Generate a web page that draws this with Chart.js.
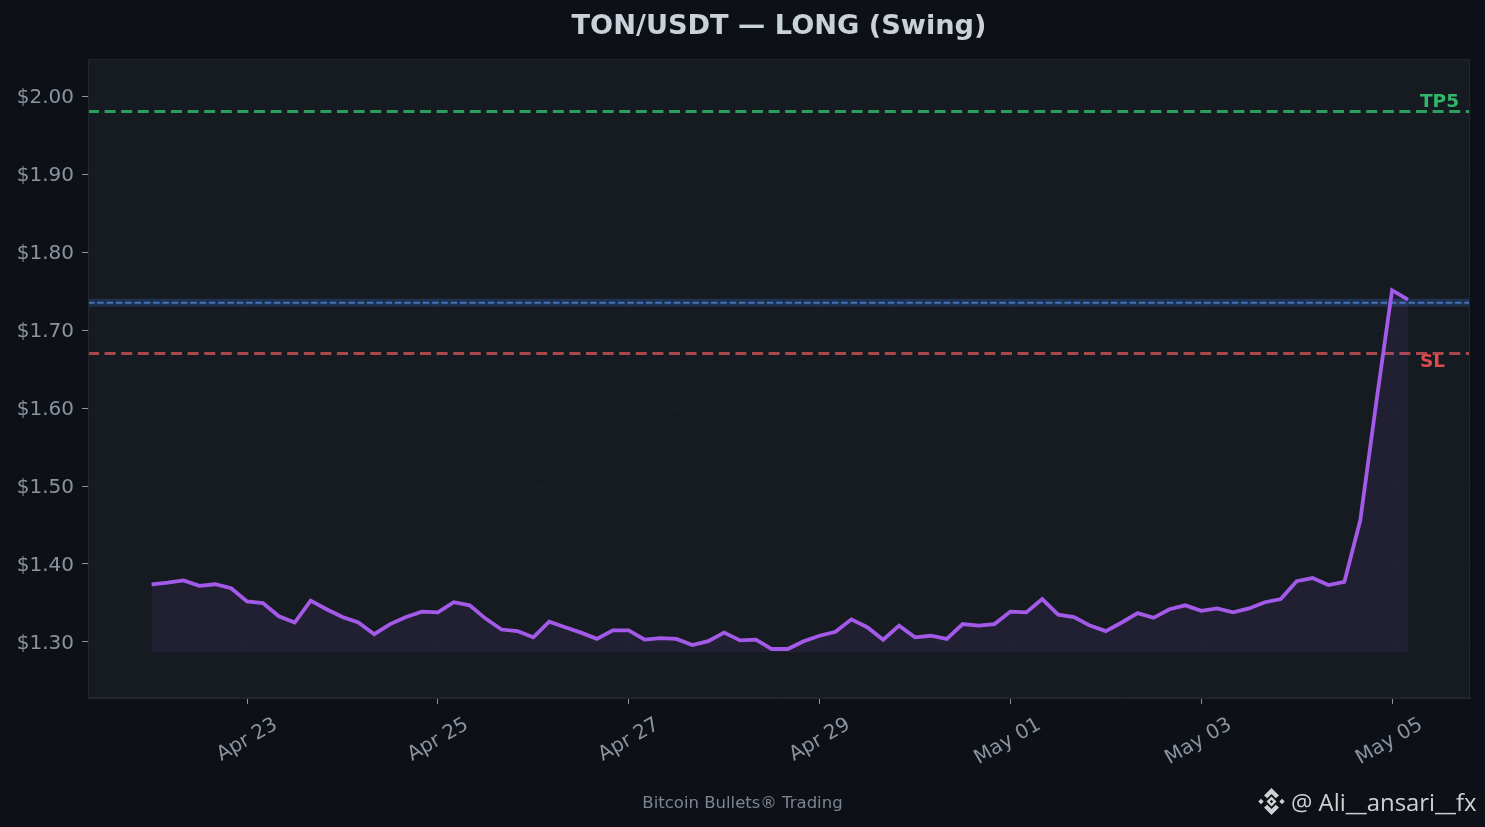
<!DOCTYPE html>
<html lang="en">
<head>
  <meta charset="UTF-8">
  <title>TON/USDT - LONG (Swing)</title>
  <script src="https://cdn.jsdelivr.net/npm/chart.js"></script>
  <style>
    html, body { margin: 0; padding: 0; background: #0d1117; overflow: hidden; }
    #wrap { position: relative; width: 1485px; height: 827px; }
    #sign {
      position: absolute; left: 1257px; top: 785px; height: 32px;
      display: flex; align-items: center; gap: 5px;
      font-family: "Open Sans", sans-serif; font-size: 23.9px; color: #cfd0d2; white-space: nowrap;
    }
  </style>
</head>
<body>
  <div id="wrap">
    <canvas id="priceChart" width="1485" height="827"></canvas>
    <div id="sign">
      <svg width="29" height="29" viewBox="0 0 29 29" fill="#cfd0d2">
        <path d="M14.5 1 L22 8.5 L18.8 11.2 L14.5 7 L10.2 11.2 L7 8.5 Z"/>
        <path d="M14.5 28 L7 20.5 L10.2 17.8 L14.5 22 L18.8 17.8 L22 20.5 Z"/>
        <path fill-rule="evenodd" d="M14.5 9.5 L19.5 14.5 L14.5 19.5 L9.5 14.5 Z M14.5 12.8 L12.8 14.5 L14.5 16.2 L16.2 14.5 Z"/>
        <path d="M4 11.8 L6.7 14.5 L4 17.2 L1.3 14.5 Z"/>
        <path d="M25 11.8 L27.7 14.5 L25 17.2 L22.3 14.5 Z"/>
      </svg>
      <span>@ Ali__ansari__fx</span>
    </div>
  </div>

  <script>
    // TON/USDT close, one value every 4 hours from Apr 22 00:00
    const prices = [
      1.374, 1.376, 1.379, 1.372, 1.374, 1.369, 1.352, 1.350, 1.333, 1.325,
      1.353, 1.342, 1.332, 1.325, 1.310, 1.323, 1.332, 1.339, 1.338, 1.351,
      1.347, 1.330, 1.316, 1.314, 1.306, 1.326, 1.319, 1.312, 1.304, 1.315,
      1.315, 1.303, 1.305, 1.304, 1.296, 1.301, 1.312, 1.302, 1.303, 1.291,
      1.291, 1.301, 1.308, 1.313, 1.329, 1.319, 1.303, 1.321, 1.306, 1.308,
      1.304, 1.323, 1.321, 1.323, 1.339, 1.338, 1.355, 1.335, 1.332, 1.321,
      1.314, 1.325, 1.337, 1.331, 1.342, 1.347, 1.340, 1.343, 1.338, 1.343,
      1.351, 1.355, 1.378, 1.382, 1.373, 1.377, 1.456, 1.606, 1.751, 1.739
    ];
    const hourStep = 4;

    const xTickHours = [24, 72, 120, 168, 216, 264, 312];
    const xTickLabels = ['Apr 23', 'Apr 25', 'Apr 27', 'Apr 29', 'May 01', 'May 03', 'May 05'];
    const yTicks = [1.3, 1.4, 1.5, 1.6, 1.7, 1.8, 1.9, 2.0];

    const xRange = [-16, 331.6];
    const yRange = [1.2282, 2.0474];

    const takeProfit = 1.98;
    const stopLoss = 1.67;
    const entryLevel = 1.735;
    const entryZone = [1.73, 1.74];
    const fillBase = 1.287;

    const titleText = 'TON/USDT — LONG (Swing)';
    const brandText = 'Bitcoin Bullets® Trading';

    const pricePoints = prices.map((p, i) => ({ x: i * hourStep, y: p }));
    const levelLine = v => xRange.map(x => ({ x: x, y: v }));

    // panel background, frame, footer text, watermark and level labels
    const decorations = {
      id: 'decorations',
      beforeDraw(chart) {
        const { ctx, chartArea: a } = chart;
        ctx.save();
        ctx.fillStyle = '#161b22';
        ctx.fillRect(a.left, a.top, a.width, a.height);
        ctx.translate(772, 375);
        ctx.rotate(-30 * Math.PI / 180);
        ctx.font = 'bold 46px "DejaVu Sans"';
        ctx.textAlign = 'center';
        ctx.textBaseline = 'middle';
        ctx.fillStyle = 'rgba(255,255,255,0.007)';
        ctx.fillText(brandText, 0, 0);
        ctx.restore();
      },
      afterDraw(chart) {
        const { ctx, chartArea: a, scales } = chart;
        ctx.save();
        ctx.strokeStyle = '#21262d';
        ctx.lineWidth = 1;
        ctx.strokeRect(a.left + 0.5, a.top + 0.5, a.width - 1, a.height - 1);

        ctx.textAlign = 'left';
        ctx.textBaseline = 'middle';
        ctx.font = 'bold 18.5px "DejaVu Sans"';
        ctx.fillStyle = '#2fb868';
        ctx.fillText('TP5', 1420, scales.y.getPixelForValue(takeProfit) - 9);
        ctx.fillStyle = '#dc4c4e';
        ctx.fillText('SL', 1420, scales.y.getPixelForValue(stopLoss) + 9);

        ctx.textAlign = 'center';
        ctx.font = '16.5px "DejaVu Sans"';
        ctx.fillStyle = '#7d8590';
        ctx.fillText(brandText, 742.5, 804);
        ctx.restore();
      }
    };

    const ctx = document.getElementById('priceChart').getContext('2d');
    new Chart(ctx, {
      type: 'line',
      plugins: [decorations],
      data: {
        datasets: [
          {
            label: 'TON/USDT',
            data: pricePoints,
            borderColor: '#a35ae8',
            borderWidth: 3.8,
            pointRadius: 0,
            tension: 0,
            borderJoinStyle: 'miter',
            fill: { target: { value: fillBase } },
            backgroundColor: 'rgba(168, 85, 247, 0.08)'
          },
          {
            label: 'TP5',
            data: levelLine(takeProfit),
            borderColor: '#2b9d5c',
            borderWidth: 3,
            borderDash: [11, 5.6],
            pointRadius: 0
          },
          {
            label: 'Entry',
            data: levelLine(entryLevel),
            borderColor: '#4472b8',
            borderWidth: 2,
            borderDash: [6.4, 2.9],
            pointRadius: 0
          },
          {
            label: 'Entry zone',
            data: levelLine(entryZone[1]),
            borderWidth: 0,
            pointRadius: 0,
            fill: { target: { value: entryZone[0] } },
            backgroundColor: 'rgba(59, 130, 246, 0.22)'
          },
          {
            label: 'SL',
            data: levelLine(stopLoss),
            borderColor: '#a9474b',
            borderWidth: 3,
            borderDash: [11, 5.6],
            pointRadius: 0
          }
        ]
      },
      options: {
        responsive: false,
        animation: false,
        layout: { padding: { left: 0, right: 15, top: 0, bottom: 0 } },
        plugins: {
          legend: { display: false },
          tooltip: { enabled: false },
          title: {
            display: true,
            text: titleText,
            fullSize: false,
            color: '#c9d1d9',
            font: { family: '"DejaVu Sans"', size: 27.2, weight: 'bold', lineHeight: 1.2 },
            padding: { top: 11, bottom: 15.4 }
          }
        },
        scales: {
          x: {
            type: 'linear',
            min: xRange[0],
            max: xRange[1],
            afterBuildTicks(axis) { axis.ticks = xTickHours.map(v => ({ value: v })); },
            afterFit(axis) { axis.height = 129; },
            grid: { color: '#191e26', tickColor: '#8b949e', tickLength: 6, lineWidth: 1 },
            border: { color: '#21262d' },
            ticks: {
              autoSkip: false,
              minRotation: 30,
              maxRotation: 30,
              padding: 9,
              labelOffset: 29,
              color: '#8b949e',
              font: { family: '"DejaVu Sans"', size: 20 },
              callback: (v, i) => xTickLabels[i]
            }
          },
          y: {
            type: 'linear',
            min: yRange[0],
            max: yRange[1],
            afterBuildTicks(axis) { axis.ticks = yTicks.map(v => ({ value: v })); },
            afterFit(axis) { axis.width = 88; },
            grid: { color: '#191e26', tickColor: '#8b949e', tickLength: 6, lineWidth: 1 },
            border: { color: '#21262d' },
            ticks: {
              autoSkip: false,
              padding: 8,
              labelOffset: 1.5,
              color: '#8b949e',
              font: { family: '"DejaVu Sans"', size: 20 },
              callback: v => '$' + v.toFixed(2)
            }
          }
        }
      }
    });
  </script>
</body>
</html>
